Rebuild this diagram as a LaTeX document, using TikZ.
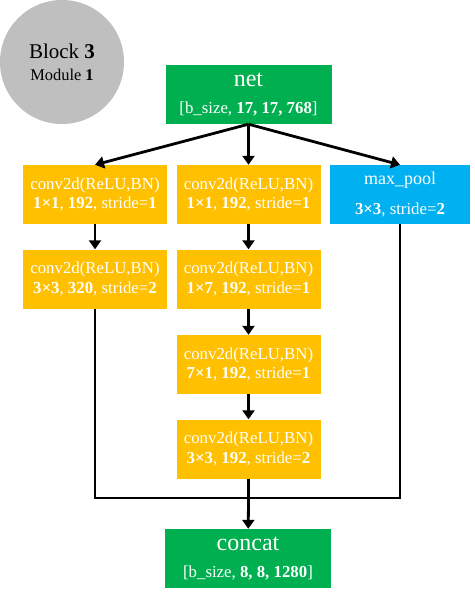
\documentclass[tikz,border=0pt]{standalone}
\usepackage{fontspec}
\setmainfont{Liberation Serif}
\usetikzlibrary{arrows.meta}

\definecolor{convorange}{HTML}{FFC000}
\definecolor{netgreen}{HTML}{00B050}
\definecolor{poolblue}{HTML}{00B0F0}
\definecolor{blockgray}{HTML}{BFBFBF}

\newcommand{\convlabel}[1]{conv2d(ReLU,BN)\\#1}

\begin{document}
\begin{tikzpicture}[x=1pt,y=-1pt]
    \tikzstyle{marrs}=[line width=2.8pt,-{Triangle[length=9pt,width=12pt]}]
    \tikzstyle{mline}=[line width=2.8pt]
    \tikzstyle{anybox}=[text=white,align=center,inner sep=0pt,minimum height=59pt]
    \tikzstyle{convbox}=[anybox,fill=convorange,minimum width=144pt,font=\fontsize{16.8}{19.5}\selectfont]
    \tikzstyle{ngbox}=[anybox,fill=netgreen,minimum width=166pt]

    \useasboundingbox (0,0) rectangle (474,594);

    % block badge
    \node[circle,fill=blockgray,minimum size=124pt,inner sep=0pt,align=center] (block) at (62,62)
        {\fontsize{21}{24}\selectfont Block \textbf{3}\\[10pt]\fontsize{16.4}{19}\selectfont Module \textbf{1}};

    % input and output
    \node[ngbox] (net) at (248.5,94.5)
        {\fontsize{24}{26}\selectfont net\\[15pt]\fontsize{16.8}{19}\selectfont [b\_size, \textbf{17, 17, 768}]};
    \node[ngbox] (concat) at (248,558.5)
        {\fontsize{24}{26}\selectfont concat\\[15pt]\fontsize{16.8}{19}\selectfont [b\_size, \textbf{8, 8, 1280}]};

    % branch 1
    \node[convbox] (c11) at (95,194.5) {\convlabel{\textbf{1×1}, \textbf{192}, stride=\textbf{1}}};
    \node[convbox] (c12) at (95,279) {\convlabel{\textbf{3×3}, \textbf{320}, stride=\textbf{2}}};

    % branch 2
    \node[convbox] (c21) at (248.5,194.5) {\convlabel{\textbf{1×1}, \textbf{192}, stride=\textbf{1}}};
    \node[convbox] (c22) at (248.5,279) {\convlabel{\textbf{1×7}, \textbf{192}, stride=\textbf{1}}};
    \node[convbox] (c23) at (248.5,364.5) {\convlabel{\textbf{7×1}, \textbf{192}, stride=\textbf{1}}};
    \node[convbox] (c24) at (248.5,449) {\convlabel{\textbf{3×3}, \textbf{192}, stride=\textbf{2}}};

    % branch 3
    \node[anybox,fill=poolblue,minimum width=140pt] (mp) at (400,194.5)
        {\fontsize{18}{19}\selectfont max\_pool\\[14pt]\fontsize{16.8}{19}\selectfont\textbf{3×3}, stride=\textbf{2}};

    \coordinate (join) at (248.5,498);

    \foreach \t in {c11, c21, mp} {
        \draw[marrs] (net.south) -- (\t.north);
    }
    \draw[marrs] (c11) -- (c12);
    \draw[marrs] (c21) -- (c22);
    \draw[marrs] (c22) -- (c23);
    \draw[marrs] (c23) -- (c24);

    \draw[mline] (c12.south) |- (mp.south |- join) -- (mp.south);
    \draw[mline] (c24.south) -- (join);
    \draw[marrs] (join) -- (concat);
\end{tikzpicture}
\end{document}
